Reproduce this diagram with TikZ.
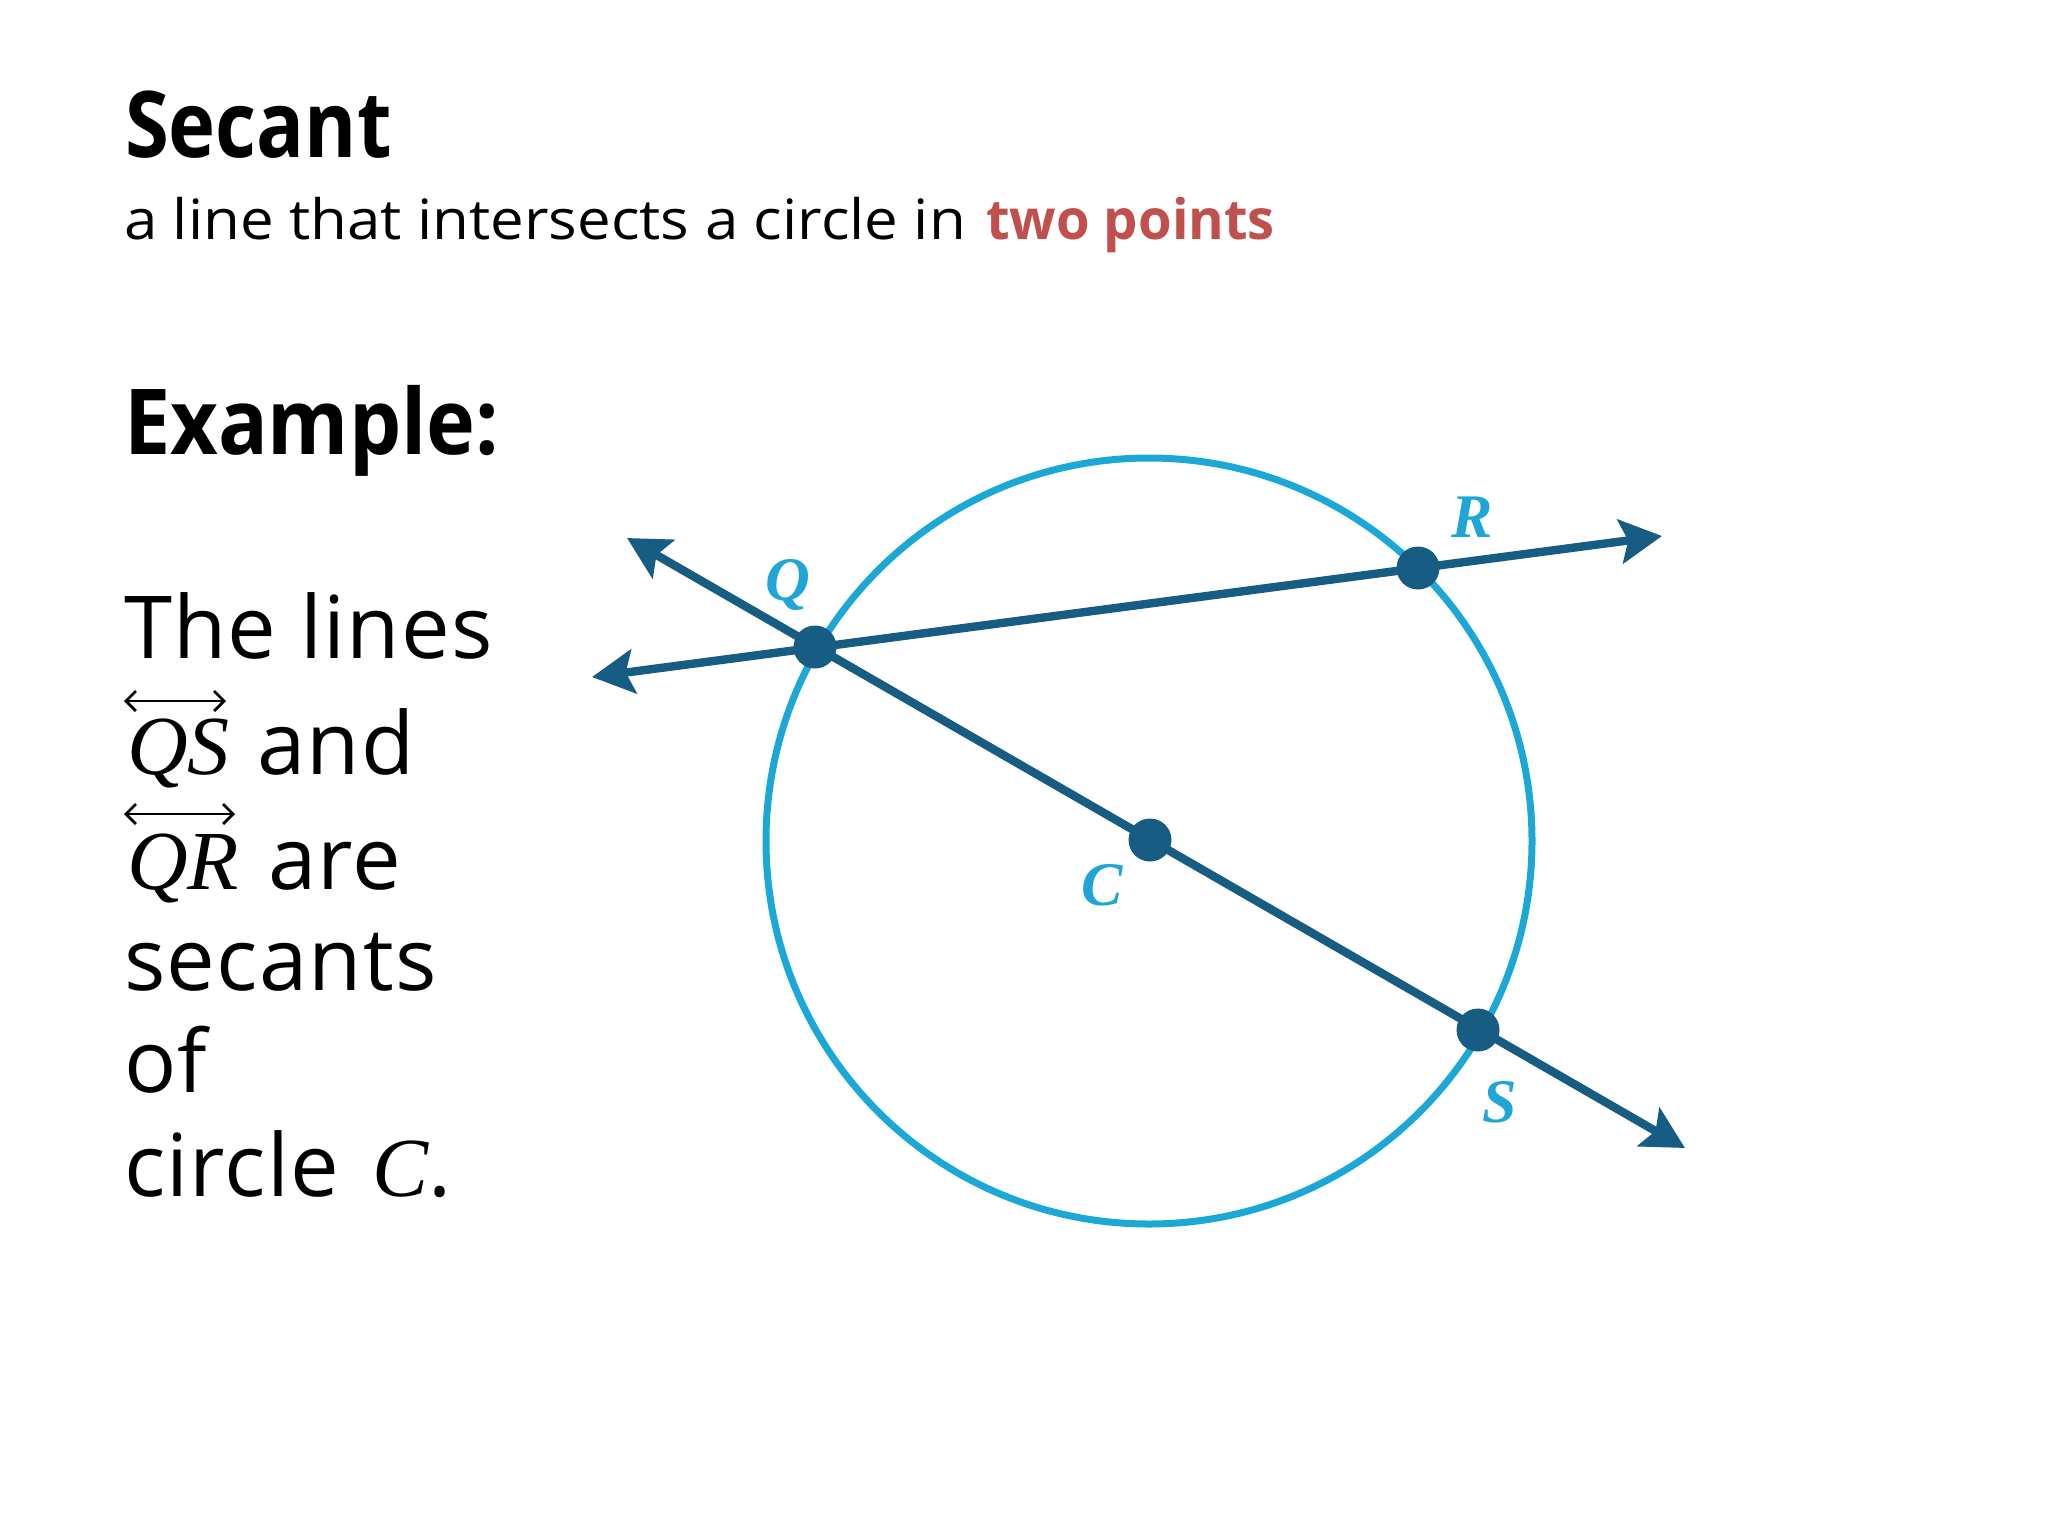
\documentclass[tikz,border=0pt]{standalone}
\usepackage{fontspec}
\usepackage{graphicx}
\usetikzlibrary{arrows.meta}
\newfontfamily\headfont{Open Sans}
\newfontfamily\bodyfont{Open Sans}[LetterSpace=1.5]
\newfontfamily\lblfont{Liberation Serif}
\newfontfamily\mathitfont{Liberation Serif}
\definecolor{secred}{RGB}{192,80,77}
\definecolor{circcyan}{RGB}{28,168,214}
\definecolor{linedark}{RGB}{23,92,130}
\definecolor{lblcyan}{RGB}{32,166,214}
\tikzset{
  txt/.style={anchor=base west, inner sep=0pt, outer sep=0pt, text=black},
  bodyline/.style={txt, font=\bodyfont\fontsize{43.4}{50}\selectfont},
  mathline/.style={txt, font=\mathitfont\itshape\fontsize{42}{50}\selectfont},
  ovarrow/.style={draw=black, line width=1.4pt, line cap=round,
    {Straight Barb[length=5pt,width=10pt,line width=1.4pt]}-{Straight Barb[length=5pt,width=10pt,line width=1.4pt]}},
  circline/.style={draw=circcyan, line width=3.5pt},
  secline/.style={draw=linedark, line width=4.2pt,
    {Stealth[length=21pt,width=22pt,inset=4pt]}-{Stealth[length=21pt,width=22pt,inset=4pt]}},
  dot/.style={circle, fill=linedark, minimum size=21.5pt, inner sep=0pt},
  lbl/.style={inner sep=0pt, text=lblcyan, font=\lblfont\bfseries\itshape\fontsize{31}{33}\selectfont}
}
\begin{document}
\begin{tikzpicture}[x=0.5pt,y=-0.5pt]
\useasboundingbox (0,0) rectangle (2048,1536);
% headings
\node[txt] (title) at (125,157) {\resizebox{133.3pt}{\height}{\headfont\bfseries\fontsize{46}{50}\selectfont Secant}};
\node[txt] (sub) at (124,239) {\resizebox{421pt}{\height}{\headfont\fontsize{27.8}{32}\selectfont a line that intersects a circle in}};
\node[txt, text=secred] (subred) at (986,239) {\resizebox{144.5pt}{\height}{\headfont\bfseries\fontsize{27.8}{32}\selectfont two points}};
\node[txt] (ex) at (124,454.5) {\resizebox{187.5pt}{\height}{\headfont\bfseries\fontsize{45.5}{50}\selectfont Example:}};
% body
\node[bodyline] (b1) at (124,658) {The lines};
\node[mathline] (qs) at (127,774) {QS};
\node[bodyline] (b2) at (257,774) {and};
\node[mathline] (qr) at (127,889) {QR};
\node[bodyline] (b3) at (268,889) {are};
\node[bodyline] (b4) at (124,990) {secants};
\node[bodyline] (b5) at (124,1092) {of};
\node[bodyline] (b6) at (124,1196) {circle};
\node[mathline] (cc) at (372,1196) {C};
\node[bodyline] (b6p) at (428,1196) {.};
\coordinate (qsL) at (124,701);
\coordinate (qsR) at (226,701);
\coordinate (qrL) at (124,814);
\coordinate (qrR) at (235,814);
\draw[ovarrow] (qsL) -- (qsR);
\draw[ovarrow] (qrL) -- (qrR);
% diagram
\coordinate (Cc) at (1149,841);
\draw[circline] (Cc) circle (191.5pt);
\coordinate (QSa) at (627,538);
\coordinate (QSb) at (1685,1148);
\coordinate (QRa) at (592,677);
\coordinate (QRb) at (1662,536);
\draw[secline] (QSa) -- (QSb);
\draw[secline] (QRa) -- (QRb);
\node[dot] (Q) at (815,647) {};
\node[dot] (R) at (1418,568) {};
\node[dot] (C) at (1150,840) {};
\node[dot] (S) at (1478,1030) {};
\node[lbl] (lQ) at (788,585) {Q};
\node[lbl] (lR) at (1472,517) {R};
\node[lbl] (lC) at (1102,885) {C};
\node[lbl] (lS) at (1500,1102) {S};
\end{tikzpicture}
\end{document}
